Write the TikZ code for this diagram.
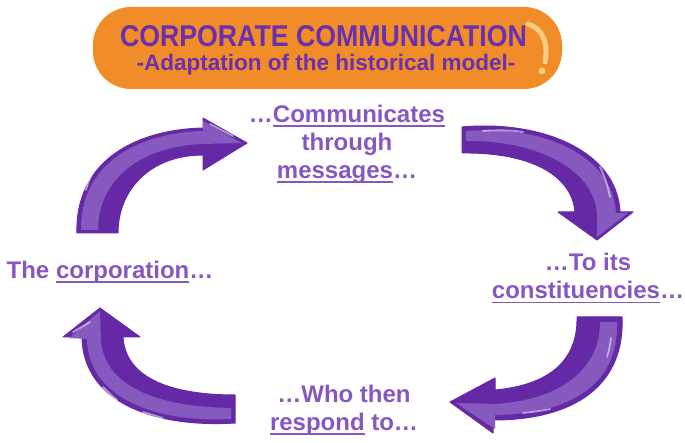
\documentclass[tikz,border=0pt]{standalone}
\usepackage{fontspec}
\setmainfont{Liberation Sans}
\usetikzlibrary{positioning}
\definecolor{titlepurple}{HTML}{6A30B0}
\definecolor{textpurple}{HTML}{8657C2}
\definecolor{bannerorange}{HTML}{F18D28}
\definecolor{bannerlight}{HTML}{FBCB86}
\definecolor{arrowdark}{HTML}{6529A6}
\definecolor{arrowlight}{HTML}{8559BE}
\newlength\stagewd
\newcommand\stageline[1]{\settowidth\stagewd{#1}\rlap{\rule[-4.5pt]{\stagewd}{1.3pt}}#1}
\tikzset{
    stage/.style = {text=textpurple, font=\fontsize{24}{28}\selectfont\bfseries,
                        align=center, inner sep=0pt},
    bannerbox/.style = {fill=bannerorange, rounded corners=38pt, minimum width=469pt,
                        minimum height=82pt, inner sep=0pt},
    band/.style = {fill=arrowdark, draw=arrowdark, line width=1pt, line join=round},
    shine/.style = {fill=arrowlight},
    gloss/.style = {draw=white, opacity=0.5, line width=1.8pt, line cap=round}
}
\begin{document}
\begin{tikzpicture}[x=1pt, y=-1pt]
		\useasboundingbox (0,0) rectangle (685,443);
		\node (banner) [bannerbox] at (327.5,48) {};
		\draw [bannerlight, line width=5pt, line cap=round] (528,24) .. controls (545,30) and (548,45) .. (545,62);
		\fill [bannerlight] (542,71) circle (3.5);
		\node (title) [anchor=base, text=titlepurple, inner sep=0pt] at (323.5,47) {\scalebox{0.89}[1]{\fontsize{30}{32}\selectfont\bfseries CORPORATE COMMUNICATION}};
		\node (subtitle) [anchor=base, text=titlepurple, inner sep=0pt, font=\fontsize{22.5}{24}\selectfont\bfseries] at (326,71) {-Adaptation of the historical model-};
		\node (messages) [stage] at (347,144) {…\stageline{Communicates}\\through\\\stageline{messages}…};
		\node (corporation) [stage] at (110,272) {The \stageline{corporation}…};
		\node (constituencies) [stage] at (588,278) {…To its\\\stageline{constituencies}…};
		\node (respond) [stage] at (344,410) {…Who then\\\stageline{respond} to…};
		\filldraw [band] (77,233) .. controls (75,165) and (130,130) .. (203,128) -- (203,118) -- (247,143) -- (203,170) -- (203,155) .. controls (150,155) and (118,190) .. (118,233) -- cycle;
		\fill [shine] (81,230) .. controls (80,167) and (133,133) .. (203,131) -- (203,121) -- (242,143) -- (203,144) .. controls (140,146) and (98,180) .. (98,230) -- cycle;
		\draw [gloss] (86,190) .. controls (90,175) and (96,165) .. (104,157);
		\draw [gloss] (210,124) -- (233,136);
		\filldraw [band] (462,127) .. controls (540,120) and (617,150) .. (620,212) -- (633,212) -- (597,240) -- (558,212) -- (575,212) .. controls (572,175) and (530,152) .. (462,153) -- cycle;
		\fill [shine] (466,131) .. controls (540,125) and (612,153) .. (616,213) -- (628,213) -- (597,237) -- (597,213) .. controls (593,168) and (535,140) .. (466,141) -- cycle;
		\draw [gloss] (483,131) .. controls (497,130) and (510,130) .. (523,132);
		\draw [gloss] (600,167) .. controls (605,177) and (608,187) .. (610,197);
		\filldraw [band] (577,317) -- (622,317) .. controls (625,385) and (575,420) .. (493,420) -- (493,433) -- (450,402) -- (495,378) -- (495,390) .. controls (550,385) and (578,360) .. (577,317) -- cycle;
		\fill [shine] (617,322) .. controls (619,383) and (573,414) .. (495,415) -- (495,429) -- (456,403) -- (495,404) .. controls (560,400) and (600,370) .. (600,322) -- cycle;
		\draw [gloss] (611,338) .. controls (610,345) and (609,351) .. (607,357);
		\draw [gloss] (523,413) .. controls (532,412) and (541,411) .. (550,409);
		\filldraw [band] (235,395) -- (235,423) .. controls (150,428) and (83,400) .. (82,337) -- (63,337) -- (100,308) -- (140,337) -- (123,337) .. controls (125,375) and (165,395) .. (235,395) -- cycle;
		\fill [shine] (231,419) .. controls (152,423) and (88,396) .. (87,339) -- (69,338) -- (100,311) -- (101,339) .. controls (103,385) and (155,407) .. (231,408) -- cycle;
		\draw [gloss] (103,387) .. controls (108,392) and (112,396) .. (117,400);
		\draw [gloss] (143,412) .. controls (150,414) and (156,416) .. (163,418);
		\draw [gloss] (73,332) -- (90,322);
	\end{tikzpicture}
\end{document}
